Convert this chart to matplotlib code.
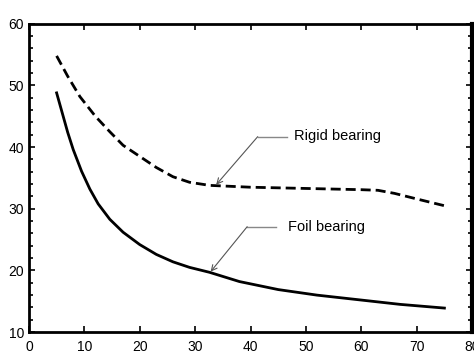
import matplotlib.pyplot as plt
from matplotlib.ticker import MultipleLocator

plt.rcParams['font.family'] = ['Liberation Sans', 'DejaVu Sans']

# values
foil_x = [5, 6, 7, 8, 9.5, 11, 12.5, 14.6, 17, 20, 23, 26, 29, 32.6, 38, 45, 52, 60, 67, 75]
foil_y = [48.8, 45.6, 42.4, 39.6, 36.1, 33.2, 30.8, 28.3, 26.2, 24.2, 22.6, 21.4, 20.5, 19.7, 18.2, 16.9, 16.0, 15.2, 14.5, 13.9]

rigid_x = [5, 7, 9.2, 12, 14.6, 17, 20, 23, 26, 29, 32.6, 40, 50, 60, 63, 66, 70, 75]
rigid_y = [54.8, 51.5, 48.2, 45.0, 42.5, 40.3, 38.5, 36.7, 35.2, 34.3, 33.8, 33.5, 33.3, 33.1, 33.0, 32.5, 31.6, 30.5]

fig = plt.figure(figsize=(4.74, 3.61), dpi=100)
ax = fig.add_axes([0.061, 0.080, 0.935, 0.854])

ax.plot(foil_x, foil_y, color='black', lw=2.0, solid_joinstyle='round')
ax.plot(rigid_x, rigid_y, color='black', lw=2.0, dashes=(3.6, 1.8))

ax.set_xlim(0, 80)
ax.set_ylim(10, 60)
ax.xaxis.set_major_locator(MultipleLocator(10))
ax.yaxis.set_major_locator(MultipleLocator(10))
ax.yaxis.set_minor_locator(MultipleLocator(2))
ax.tick_params(which='both', direction='in', top=True, right=True, labelsize=10, width=1.2)
ax.tick_params(which='major', length=4)
ax.tick_params(which='minor', length=3)
ax.tick_params(axis='x', pad=6)
for s in ax.spines.values():
    s.set_linewidth(2.0)
ax.spines['right'].set_linewidth(3.0)

# leader lines
grey = '#555555'
ax.annotate('', xy=(33.8, 33.9), xytext=(41.3, 41.7),
            arrowprops=dict(arrowstyle='->', color=grey, lw=0.8, shrinkA=0, shrinkB=0))
ax.plot([41.3, 46.5], [41.7, 41.7], color='#888888', lw=1.0)
ax.text(47.9, 41.8, 'Rigid bearing', fontsize=10.5, va='center', ha='left')

ax.annotate('', xy=(32.8, 19.8), xytext=(39.4, 27.1),
            arrowprops=dict(arrowstyle='->', color=grey, lw=0.8, shrinkA=0, shrinkB=0))
ax.plot([39.4, 44.6], [27.1, 27.1], color='#888888', lw=1.0)
ax.text(46.7, 27.05, 'Foil bearing', fontsize=10.5, va='center', ha='left')

fig.savefig('out.png', dpi=100)
